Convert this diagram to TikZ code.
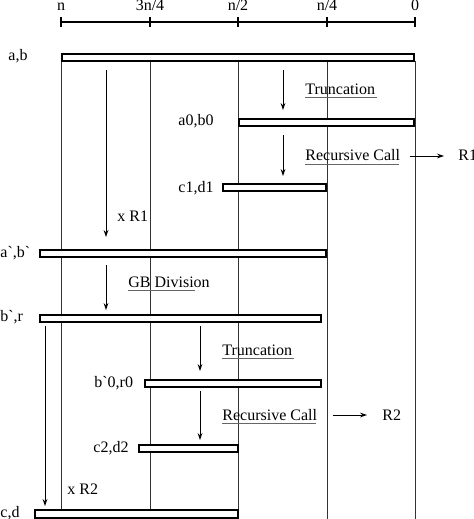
\documentclass[tikz,border=0pt]{standalone}
\usepackage{fontspec}
\setmainfont{Liberation Serif}
\usetikzlibrary{arrows.meta}
\begin{document}
\begin{tikzpicture}[x=0.5pt,y=-0.5pt,
  thinline/.style={line width=0.5pt, black!80},
  barbox/.style={draw=black, fill=white, line width=1pt},
  arr/.style={line width=0.5pt, -{Stealth[length=3.5pt,width=2.4pt]}},
  txt/.style={font=\fontsize{8}{9}\selectfont, inner sep=0pt},
  ulbl/.style={txt},
  ulline/.style={line width=0.5pt, black!60}
]
\useasboundingbox (0,0) rectangle (474,519);
% axis
\draw[line width=1.1pt] (61,22) -- (415,22);
\foreach \x/\t/\n in {61/n/tn,150/3n\slash 4/tc,238/n\slash 2/th,327/n\slash 4/tq,415/0/tz}{
  \draw[line width=0.6pt] (\x,17) -- (\x,27);
  \node[txt, anchor=base] (\n) at (\x,11) {\t};
}
% vertical guide lines
\draw[thinline] (61,61) -- (61,509);
\draw[thinline] (150,61) -- (150,509);
\draw[thinline] (238,61) -- (238,509);
\draw[thinline] (327,61) -- (327,519);
\draw[thinline] (415,61) -- (415,519);
% bars
\draw[barbox] (62,54) rectangle (414,61);
\draw[barbox] (239,119) rectangle (414,126);
\draw[barbox] (223,184) rectangle (326,191);
\draw[barbox] (40,250) rectangle (326,257);
\draw[barbox] (40,315) rectangle (321,322);
\draw[barbox] (145,380) rectangle (321,387);
\draw[barbox] (139,445) rectangle (238,452);
\draw[barbox] (35,510) rectangle (238,518);
% bar labels
\node[txt, anchor=base west] (lab) at (8,61) {a,b};
\node[txt, anchor=base west] (la0) at (178,126) {a0,b0};
\node[txt, anchor=base west] (lc1) at (178,192) {c1,d1};
\node[txt, anchor=base west] (lap) at (0,257) {a\textasciigrave,b\textasciigrave};
\node[txt, anchor=base west] (lbr) at (0,321) {b\textasciigrave,r};
\node[txt, anchor=base west] (lb0) at (94,387) {b\textasciigrave0,r0};
\node[txt, anchor=base west] (lc2) at (93,452) {c2,d2};
\node[txt, anchor=base west] (lcd) at (0,517) {c,d};
% arrows
\draw[arr] (283,70) -- (283,110);
\draw[arr] (283,135) -- (283,176);
\draw[arr] (106,70) -- (106,237);
\draw[arr] (106,265) -- (106,310);
\draw[arr] (200,326) -- (200,371);
\draw[arr] (200,391) -- (200,440);
\draw[arr] (45,326) -- (45,506);
\draw[arr] (410,156) -- (444,156);
\draw[arr] (333,415) -- (367,415);
% operation labels
\node[ulbl, anchor=base west] (t1) at (305,95) {Truncation};
\draw[ulline] (305,98) -- (377,98);
\node[ulbl, anchor=base west] (r1) at (305,161) {Recursive Call};
\draw[ulline] (305,164) -- (399,164);
\node[txt, anchor=base west] (R1) at (458,161) {R1};
\node[txt, anchor=base west] (x1) at (117,221) {x R1};
\node[ulbl, anchor=base west] (gb) at (128,287) {GB Division};
\draw[ulline] (128,290) -- (195,290);
\node[ulbl, anchor=base west] (t2) at (222,355) {Truncation};
\draw[ulline] (222,358) -- (294,358);
\node[ulbl, anchor=base west] (r2) at (222,420) {Recursive Call};
\draw[ulline] (222,423) -- (316,423);
\node[txt, anchor=base west] (R2) at (382,420) {R2};
\node[txt, anchor=base west] (x2) at (67,494) {x R2};
\end{tikzpicture}
\end{document}
